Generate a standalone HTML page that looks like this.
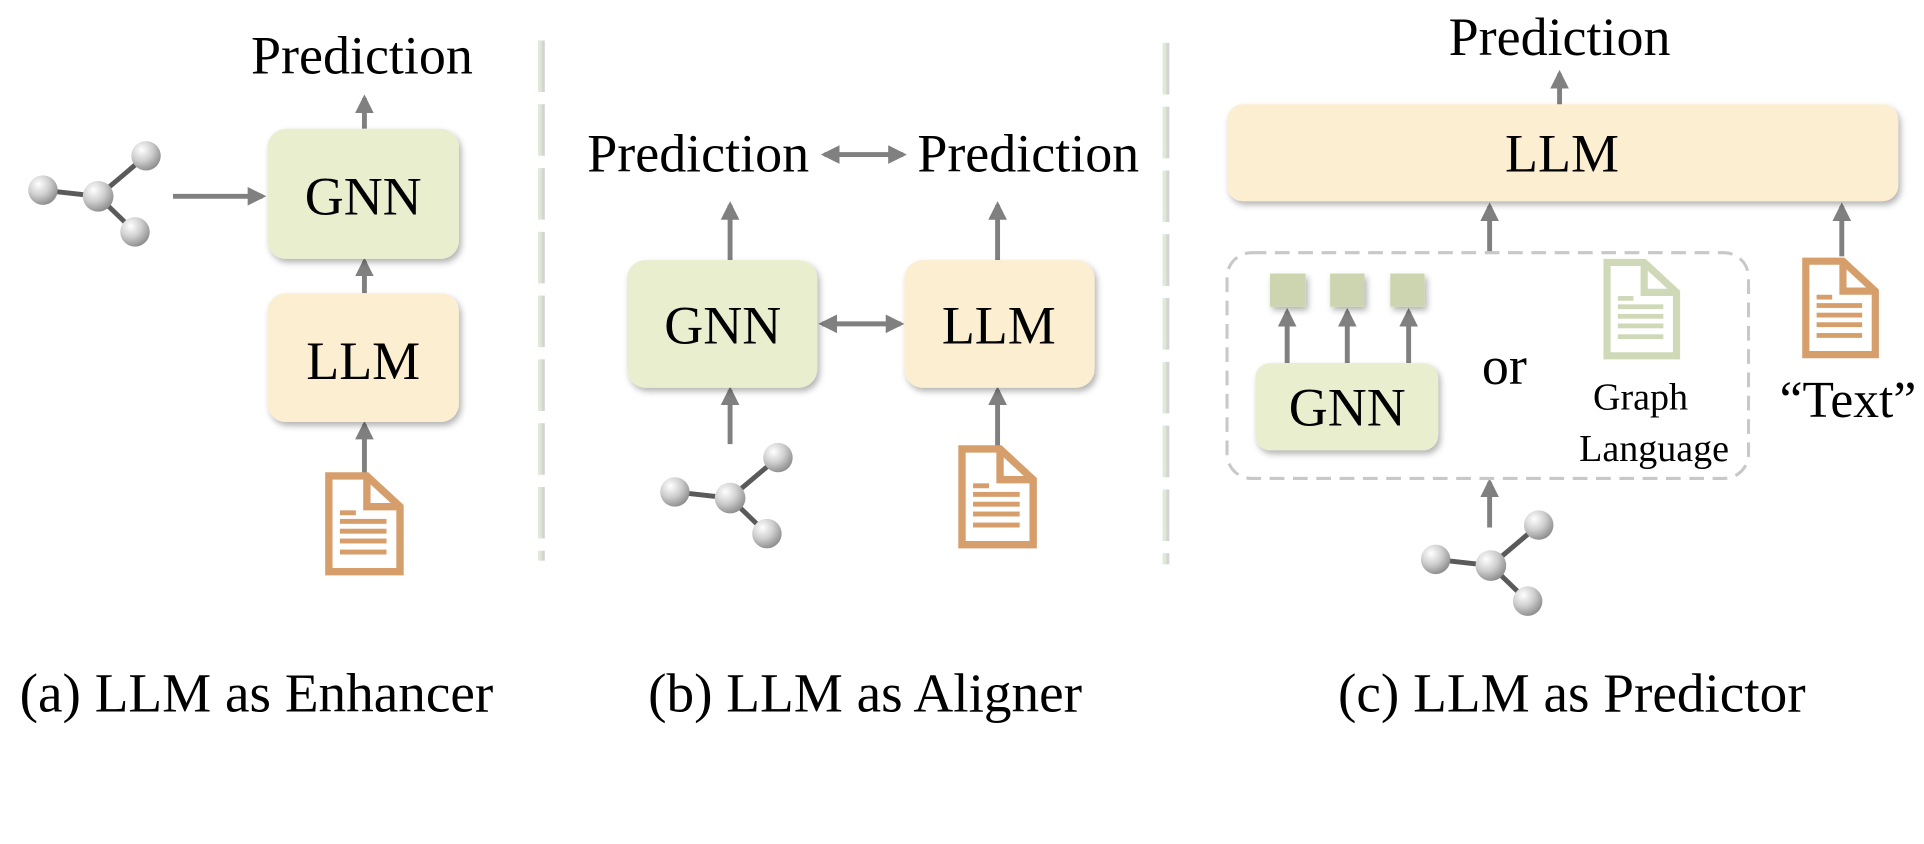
<!DOCTYPE html>
<html><head><meta charset="utf-8"><style>html,body{margin:0;padding:0;background:#fff;}svg{display:block}</style></head>
<body>
<svg width="1924" height="844" viewBox="0 0 1568 688" preserveAspectRatio="none" xmlns="http://www.w3.org/2000/svg" font-family="'Liberation Serif', serif">
<defs>
<radialGradient id="ball" cx="0.35" cy="0.3" r="0.75">
<stop offset="0" stop-color="#ffffff"/><stop offset="0.5" stop-color="#cfcfcf"/><stop offset="1" stop-color="#8a8a8a"/>
</radialGradient>
<filter id="sh" x="-10%" y="-10%" width="125%" height="130%"><feDropShadow dx="2" dy="3" stdDeviation="2.5" flood-color="#000" flood-opacity="0.3"/></filter>
<marker id="ah" viewBox="0 0 10 10" refX="8" refY="5" markerWidth="3.8" markerHeight="3.8" orient="auto-start-reverse"><path d="M0,0 L10,5 L0,10 Z" fill="#808080"/></marker>
<symbol id="doc" viewBox="0 0 64 84" overflow="visible">
<path d="M3 3 H34 L61 28 V81 H3 Z" fill="#fff" stroke="currentColor" stroke-width="6"/>
<path d="M34 3 V28 H61" fill="none" stroke="currentColor" stroke-width="6"/>
<rect x="12" y="31" width="13" height="4" fill="currentColor"/>
<rect x="12" y="38" width="38" height="4" fill="currentColor"/>
<rect x="12" y="46" width="38" height="4" fill="currentColor"/>
<rect x="12" y="54" width="38" height="4" fill="currentColor"/>
<rect x="12" y="63" width="38" height="4" fill="currentColor"/>
</symbol>
<symbol id="mol" viewBox="0 0 100 80" overflow="visible">
<path d="M17 37 L62 42 L101 9 M62 42 L92 71" stroke="#5a5a5a" stroke-width="4" fill="none"/>
<circle cx="17" cy="37" r="12" fill="url(#ball)"/>
<circle cx="62" cy="42" r="12.5" fill="url(#ball)"/>
<circle cx="101" cy="9" r="12" fill="url(#ball)"/>
<circle cx="92" cy="71" r="12" fill="url(#ball)"/>
</symbol>
</defs>
<g stroke="#808080" stroke-width="4" fill="none" marker-end="url(#ah)">
<line x1="297" y1="105" x2="297" y2="80"/>
<line x1="297" y1="239" x2="297" y2="213"/>
<line x1="297" y1="390" x2="297" y2="346"/>
<line x1="141" y1="160" x2="214" y2="160"/>
<line x1="595" y1="212" x2="595" y2="167"/>
<line x1="595" y1="362" x2="595" y2="318"/>
<line x1="813" y1="212" x2="813" y2="167"/>
<line x1="813" y1="368" x2="813" y2="318"/>
<line x1="672" y1="126" x2="736" y2="126" marker-start="url(#ah)"/>
<line x1="670" y1="264" x2="734" y2="264" marker-start="url(#ah)"/>
<line x1="1271" y1="86" x2="1271" y2="60"/>
<line x1="1214" y1="206" x2="1214" y2="168"/>
<line x1="1501" y1="209" x2="1501" y2="168"/>
<line x1="1214" y1="430" x2="1214" y2="393"/>
<line x1="1049" y1="296" x2="1049" y2="254"/>
<line x1="1098" y1="296" x2="1098" y2="254"/>
<line x1="1148" y1="296" x2="1148" y2="254"/>
</g>
<line x1="442" y1="33" x2="442" y2="457" stroke="#b8b8b8" stroke-width="4" stroke-dasharray="42,10" opacity="0.6"/>
<line x1="440" y1="33" x2="440" y2="457" stroke="#dfe9d6" stroke-width="3" stroke-dasharray="42,10"/>
<line x1="951" y1="35" x2="951" y2="460" stroke="#b8b8b8" stroke-width="4" stroke-dasharray="42,10" opacity="0.6"/>
<line x1="949" y1="35" x2="949" y2="460" stroke="#dfe9d6" stroke-width="3" stroke-dasharray="42,10"/>
<g filter="url(#sh)">
<rect x="218" y="105" width="156" height="106" rx="15" fill="#e9eecf"/>
<rect x="218" y="239" width="156" height="105" rx="15" fill="#fbeed1"/>
<rect x="511" y="212" width="155" height="104" rx="15" fill="#e9eecf"/>
<rect x="737" y="212" width="155" height="104" rx="15" fill="#fbeed1"/>
<rect x="1000" y="85" width="547" height="79" rx="13" fill="#fbeed1"/>
<rect x="1023" y="296" width="149" height="71" rx="12" fill="#e9eecf"/>
<rect x="1035" y="223" width="29" height="27" fill="#cdd5b0"/>
<rect x="1084" y="223" width="28" height="27" fill="#cdd5b0"/>
<rect x="1133" y="223" width="28" height="27" fill="#cdd5b0"/>
</g>
<rect x="1000" y="206" width="425" height="184" rx="20" fill="none" stroke="#c8c8c8" stroke-width="2.5" stroke-dasharray="12,7"/>
<use href="#doc" x="265" y="385" width="64" height="84" color="#d59e6b"/>
<use href="#doc" x="781" y="363" width="64" height="84" color="#d59e6b"/>
<use href="#doc" x="1468" y="210" width="64" height="82" color="#d59e6b"/>
<use href="#doc" x="1306" y="211" width="64" height="82" color="#cfd9b8"/>
<use href="#mol" x="18" y="118" width="100" height="80"/>
<use href="#mol" x="533" y="364" width="100" height="80"/>
<use href="#mol" x="1153" y="419" width="100" height="80"/>
<g fill="#000" text-anchor="middle" font-size="44">
<text x="295" y="60">Prediction</text>
<text x="296" y="175">GNN</text>
<text x="296" y="309">LLM</text>
<text x="569" y="140">Prediction</text>
<text x="838" y="140">Prediction</text>
<text x="589" y="280">GNN</text>
<text x="814" y="280">LLM</text>
<text x="1271" y="45">Prediction</text>
<text x="1273" y="140">LLM</text>
<text x="1098" y="347">GNN</text>
<text x="1226" y="313">or</text>
<text x="1506" y="340" font-size="42">“Text”</text>
<text x="1337" y="334" font-size="31">Graph</text>
<text x="1348" y="376" font-size="31">Language</text>
<text x="209" y="580" font-size="45">(a) LLM as Enhancer</text>
<text x="705" y="580" font-size="45">(b) LLM as Aligner</text>
<text x="1281" y="580" font-size="45">(c) LLM as Predictor</text>
</g>
</svg>
</body></html>
